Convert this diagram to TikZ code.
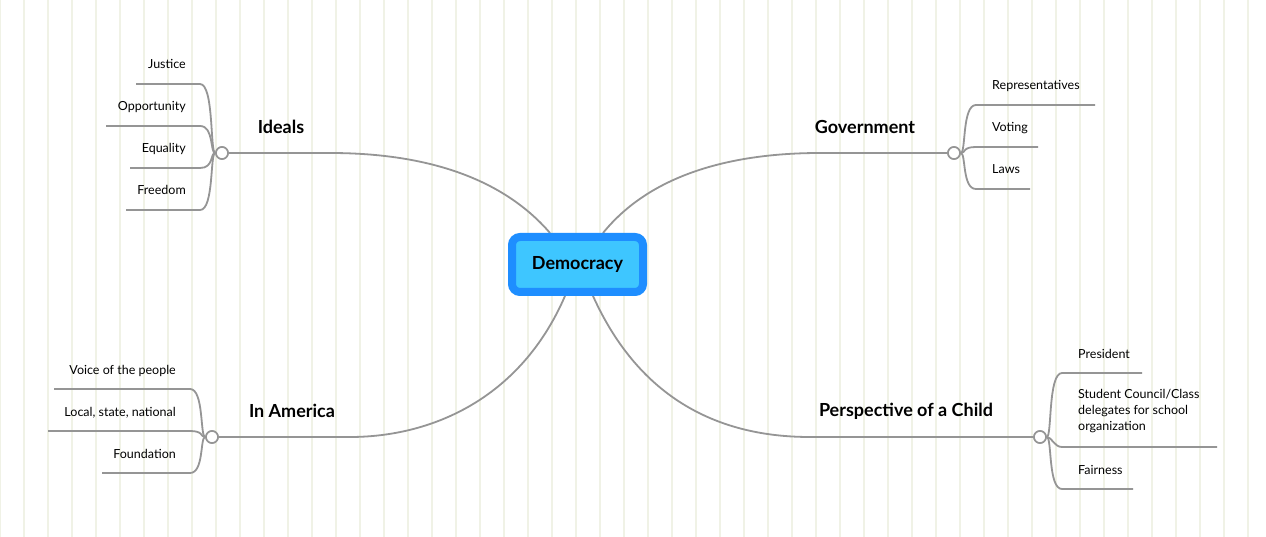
\documentclass[tikz,border=0pt]{standalone}
\usepackage{fontspec}
\setmainfont{Lato}
\definecolor{bord}{HTML}{1E8EFF}
\definecolor{fillc}{HTML}{3EC6FF}
\definecolor{gridc}{HTML}{F0F2E6}
\definecolor{linec}{HTML}{959595}
\begin{document}
\begin{tikzpicture}[x=1pt,y=-1pt,
  ln/.style={draw=linec,line width=1.8pt},
  leaf/.style={font=\fontsize{12.5}{16}\selectfont,inner sep=0pt},
  br/.style={font=\bfseries\fontsize{18}{20}\selectfont,inner sep=0pt},
  hub/.style={circle,draw=linec,fill=white,line width=1.6pt,minimum size=12pt,inner sep=0pt}]
\useasboundingbox (0,0) rectangle (1266,537);
\fill[white] (0,0) rectangle (1266,537);
\draw[gridc,line width=1.2pt,step=24] (0,0) grid (1266,537);
\node[hub] (hi) at (222,153) {};
\node[hub] (hg) at (954,153) {};
\node[hub] (ha) at (212,437) {};
\node[hub] (hp) at (1040,437) {};
\coordinate (ci) at (550,233);
\coordinate (cg) at (603,233);
\coordinate (ca) at (565,296);
\coordinate (cp) at (593,296);
\draw[ln] (ci) .. controls (500,175) and (420,153) .. (330,153) -- (hi);
\draw[ln] (cg) .. controls (650,175) and (730,153) .. (820,153) -- (hg);
\draw[ln] (ca) .. controls (520,400) and (430,437) .. (350,437) -- (ha);
\draw[ln] (cp) .. controls (640,400) and (720,437) .. (810,437) -- (hp);
\node[draw=bord,fill=fillc,line width=8pt,rounded corners=8pt,minimum width=131pt,minimum height=55pt,font=\bfseries\fontsize{18}{20}\selectfont] (c) at (577.5,264.5) {Democracy};
\node[br] (ti) at (281,127) {Ideals};
\node[br] (tg) at (865,127) {Government};
\node[br] (ta) at (292,411) {In America};
\node[br] (tp) at (906,411) {Perspective of a Child};
\foreach \t/\y/\xs in {Justice/84/136,Opportunity/126/106,Equality/168/130,Freedom/210/126}{
  \coordinate (e) at (200,\y);
  \draw[ln] (\xs,\y) -- (e) .. controls (214,\y) and (210,153) .. (hi.west);
  \node[leaf,anchor=base east] at (186,\y-15) {\t};
}
\foreach \t/\y/\xs in {Voice of the people/389/54,{Local, state, national}/431/48,Foundation/473/102}{
  \coordinate (e) at (190,\y);
  \draw[ln] (\xs,\y) -- (e) .. controls (204,\y) and (200,437) .. (ha.west);
  \node[leaf,anchor=base east] at (176,\y-15) {\t};
}
\foreach \t/\y/\xe in {Representatives/105/1095,Voting/147/1038,Laws/189/1030}{
  \coordinate (e) at (976,\y);
  \draw[ln] (\xe,\y) -- (e) .. controls (962,\y) and (966,153) .. (hg.east);
  \node[leaf,anchor=base west] at (992,\y-15) {\t};
}
\foreach \t/\y/\xe in {President/373/1142,Fairness/489/1133}{
  \coordinate (e) at (1062,\y);
  \draw[ln] (\xe,\y) -- (e) .. controls (1048,\y) and (1052,437) .. (hp.east);
  \node[leaf,anchor=base west] at (1078,\y-15) {\t};
}
\coordinate (e) at (1062,447);
\draw[ln] (1217,447) -- (e) .. controls (1054,447) and (1052,437) .. (hp.east);
\node[leaf,anchor=north west,align=left,font=\fontsize{12.5}{16}\selectfont] at (1078,389) {Student Council/Class\\delegates for school\\organization};
\node[hub] at (hi) {};\node[hub] at (hg) {};\node[hub] at (ha) {};\node[hub] at (hp) {};
\end{tikzpicture}
\end{document}
